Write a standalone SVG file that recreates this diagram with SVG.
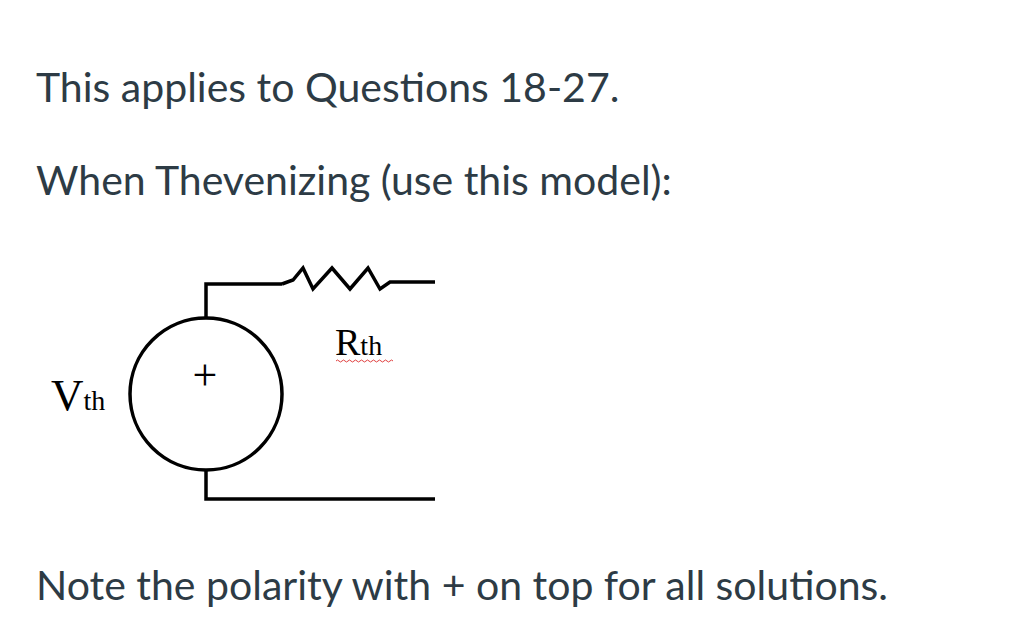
<svg xmlns="http://www.w3.org/2000/svg" width="1024" height="636" viewBox="0 0 1024 636">
<style>
.t{font-family:Lato,"Liberation Sans",sans-serif;font-size:41px;fill:#2d3b45}
.s{font-family:"Liberation Serif",serif;fill:#000}
.w{fill:none;stroke:#000;stroke-width:3.5;stroke-linejoin:miter}
</style>
<rect width="1024" height="636" fill="#fff"/>
<text class="t" x="36" y="102">This applies to Questions 18-27.</text>
<text class="t" x="36" y="195">When Thevenizing (use this model):</text>
<text class="t" x="36" y="600">Note the polarity with + on top for all solutions.</text>
<g id="source">
<circle class="w" cx="206" cy="394" r="76"/>
<text class="s" x="205" y="390" font-size="44" text-anchor="middle">+</text>
</g>
<g id="resistor">
<polyline class="w" points="282,284 293,280 303,268 313,289 332,268 350,289 368,268 380,289 390,282 435,282"/>
</g>
<g id="connectors">
<polyline class="w" points="206,318 206,284 282,284"/>
<polyline class="w" points="206,470 206,499 435,499"/>
</g>
<g id="labels">
<text class="s" x="51" y="410" font-size="45">V<tspan font-size="28">th</tspan></text>
<text class="s" x="335" y="355" font-size="38">R<tspan font-size="28">th</tspan></text>
<path d="M336,361 q1.5,-2 3,0 t3,0 t3,0 t3,0 t3,0 t3,0 t3,0 t3,0 t3,0 t3,0 t3,0 t3,0 t3,0 t3,0 t3,0 t3,0 t3,0 t3,0 t3,0" fill="none" stroke="#e04040" stroke-width="1"/>
</g>
</svg>
